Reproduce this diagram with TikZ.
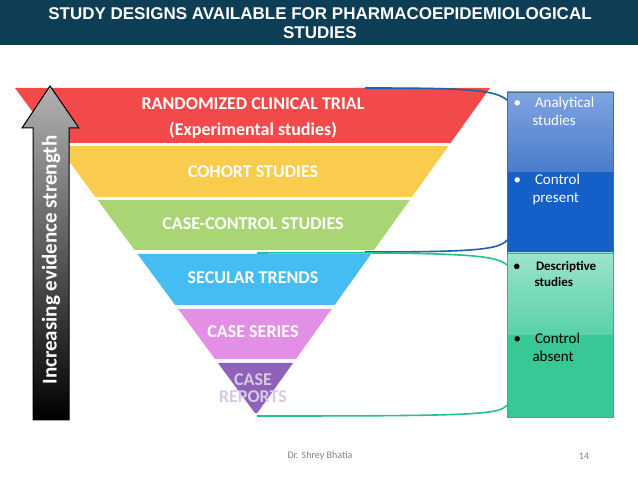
\documentclass[tikz,border=0pt]{standalone}
\usepackage{fontspec}
\setmainfont{Carlito}
\newfontfamily\headfont{Liberation Sans}
\usetikzlibrary{shadings}
\definecolor{titlebg}{HTML}{0E3D56}
\definecolor{bandred}{HTML}{F2494B}
\definecolor{bandyellow}{HTML}{F9CC4E}
\definecolor{bandgreen}{HTML}{A9D574}
\definecolor{bandblue}{HTML}{46BDF2}
\definecolor{bandpink}{HTML}{E48FE6}
\definecolor{bandpurple}{HTML}{8E62B8}
\definecolor{linkblue}{HTML}{1F5FB0}
\definecolor{boxtop}{HTML}{7FA3E0}
\definecolor{boxmid}{HTML}{4A7CCC}
\definecolor{boxdark}{HTML}{1460C8}
\definecolor{linkgreen}{HTML}{22C28A}
\tikzset{
  lbl/.style={font=\bfseries\fontsize{18}{20}\selectfont, text=white, align=center},
  bul/.style={font=\fontsize{15}{18}\selectfont, anchor=north west, align=left, text width=100pt},
  link/.style={line width=1.6pt}
}
\begin{document}
\begin{tikzpicture}[x=1pt,y=-1pt]
\useasboundingbox (0,0) rectangle (638,478);
% title bar
\fill[titlebg] (0,0) rectangle (638,45);
\node[font=\headfont\bfseries\fontsize{17}{19}\selectfont, text=white, align=center] (title) at (320,23)
  {STUDY DESIGNS AVAILABLE FOR PHARMACOEPIDEMIOLOGICAL\\STUDIES};

% inverted pyramid bands
\foreach \ya/\yb/\c in {88/143/bandred,146/197/bandyellow,200/250/bandgreen,254/305/bandblue,309/359/bandpink,363/413/bandpurple}{
  \fill[\c] ({15+0.738*(\ya-88)},\ya) -- ({490-0.716*(\ya-88)},\ya)
     -- ({490-0.716*(\yb-88)},\yb) -- ({15+0.738*(\yb-88)},\yb) -- cycle;
}
\node[lbl] (rct) at (253,104) {RANDOMIZED CLINICAL TRIAL};
\node[lbl] (exp) at (253,130) {(Experimental studies)};
\node[lbl] (coh) at (253,172) {COHORT STUDIES};
\node[lbl] (cc) at (253,224) {CASE-CONTROL STUDIES};
\node[lbl] (sec) at (253,278) {SECULAR TRENDS};
\node[lbl] (ser) at (253,332) {CASE SERIES};
\node[lbl, text=bandpurple!35!white] (rep) at (253,388) {CASE\\[-3pt]REPORTS};

% left arrow
\shade[top color=gray!60, bottom color=black, draw=black, line width=1pt]
  (50,86) -- (79,128) -- (69,128) -- (69,420) -- (33,420) -- (33,128) -- (22,128) -- cycle;
\node[font=\bfseries\fontsize{21}{24}\selectfont, text=white, rotate=90] (ev) at (51,260) {Increasing evidence strength};

% right boxes
\shade[top color=boxtop, bottom color=boxmid] (507,92) rectangle (613,172);
\fill[boxdark] (507,172) rectangle (613,253);
\shade[top color=linkgreen!45!white, bottom color=linkgreen!75!white] (507,253) rectangle (613,335);
\fill[linkgreen!90!white] (507,335) rectangle (613,417);
\draw[linkblue!60!gray, line width=0.8pt] (507,92) rectangle (613,253);
\draw[linkgreen!60!gray, line width=0.8pt] (507,253) rectangle (613,417);
\node[bul, text=white] (an) at (510,94) {•\hspace{14pt}Analytical\\\hspace{19pt}studies};
\node[bul, text=white] (cp) at (510,171) {•\hspace{14pt}Control\\\hspace{19pt}present};
\node[bul, text=black, font=\bfseries\fontsize{13}{16}\selectfont] (ds) at (510,258) {•\hspace{16pt}Descriptive\\\hspace{21pt}studies};
\node[bul, text=black] (ca) at (510,330) {•\hspace{14pt}Control\\\hspace{19pt}absent};

% connecting curves
\coordinate (b1) at (365,88);  \coordinate (b1e) at (507,100);
\coordinate (b2) at (365,252); \coordinate (b2e) at (507,240);
\coordinate (g1) at (257,253); \coordinate (g1e) at (507,265);
\coordinate (g2) at (257,416); \coordinate (g2e) at (507,405);
\draw[link, linkblue] (b1) .. controls (470,88) and (495,90) .. (b1e);
\draw[link, linkblue] (b2) .. controls (470,252) and (500,250) .. (b2e);
\draw[link, linkgreen] (g1) .. controls (470,252) and (495,255) .. (g1e);
\draw[link, linkgreen] (g2) .. controls (470,416) and (500,415) .. (g2e);

% footer
\node[font=\fontsize{10}{12}\selectfont, text=gray] (auth) at (320,456) {Dr. Shrey Bhatia};
\node[font=\fontsize{10}{12}\selectfont, text=gray] (pg) at (584,456) {14};
\end{tikzpicture}
\end{document}
